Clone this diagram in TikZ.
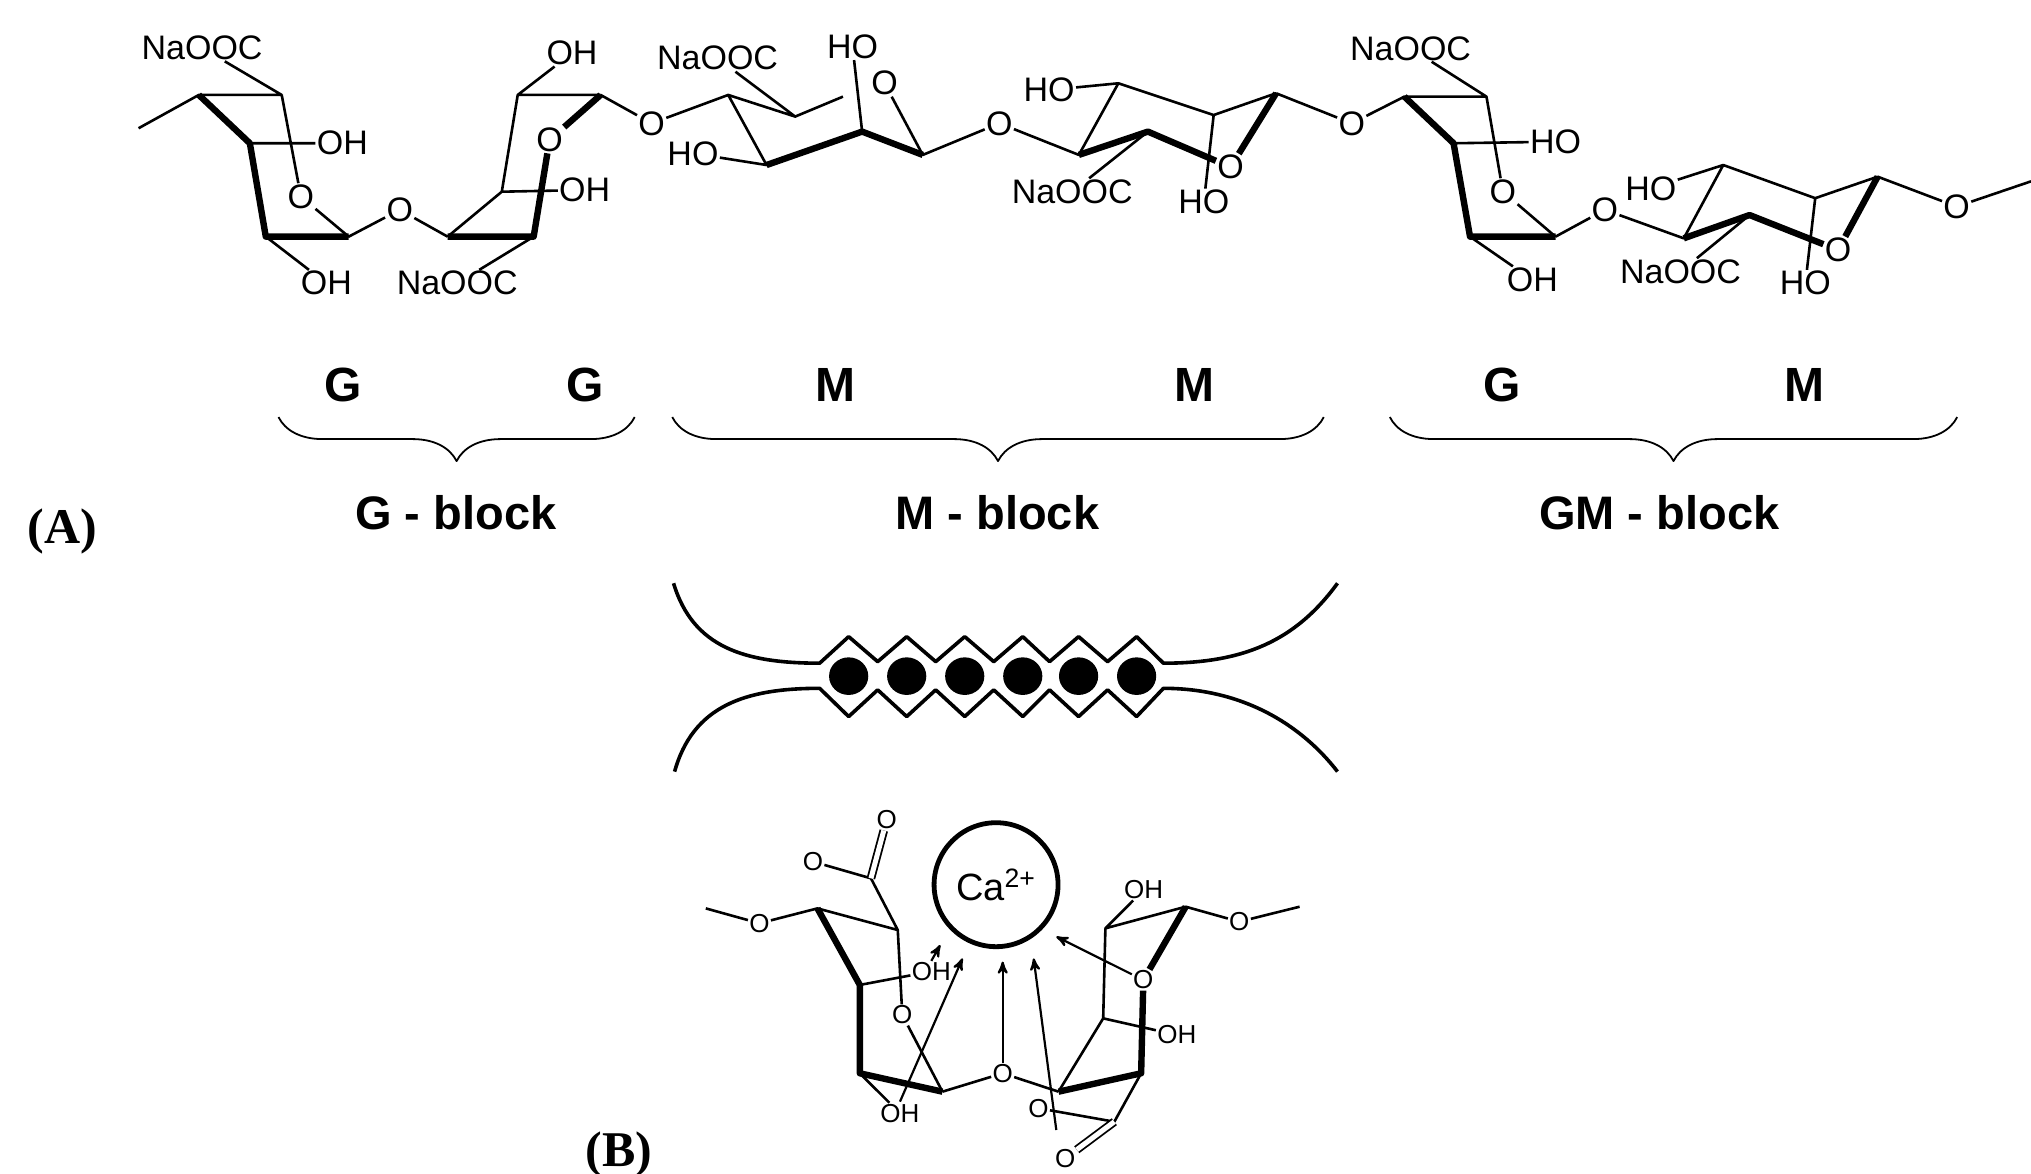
\documentclass[tikz,border=0pt]{standalone}
\usepackage{fontspec}
\setmainfont{Liberation Sans}
\newfontfamily\labelserif{Liberation Serif}
\usetikzlibrary{arrows,decorations.pathreplacing}

\begin{document}
\begin{tikzpicture}[x=0.6477pt,y=-0.6477pt,line join=round,
  atom/.style={inner sep=0.5pt,font=\fontsize{17}{17}\selectfont},
  small atom/.style={inner sep=0.5pt,font=\fontsize{13}{13}\selectfont},
  unit/.style={font=\fontsize{24}{24}\selectfont\bfseries},
  block/.style={font=\fontsize{23.5}{24}\selectfont\bfseries},
  bond/.style={line width=1.3pt},
  wedge/.style={line width=3.2pt},
  brace/.style={decorate,decoration={brace,mirror,amplitude=22pt},line width=0.9pt},
  ca arrow/.style={->,>=stealth',line width=1.1pt}]
  \useasboundingbox (0,0) rectangle (1568,906);

  % first G unit
  \coordinate (r1s) at (107,99);
  \coordinate (r1a) at (153.5,73.3);
  \coordinate (r1b) at (217.5,73.3);
  \coordinate (r1c) at (192.9,110.6);
  \coordinate (r1d) at (205.2,182.7);
  \coordinate (r1e) at (269.2,182.7);
  \node[atom] (r1na) at (156,37) {NaOOC};
  \node[atom] (r1o) at (232.3,151.8) {O};
  \node[atom] (r1oh) at (264.3,110.6) {OH};
  \node[atom] (r1ohb) at (252,218.7) {OH};
  \node[atom] (o12) at (308.6,162) {O};
  % second G unit
  \coordinate (r2a) at (345.6,182.7);
  \coordinate (r2b) at (412,182.7);
  \coordinate (r2c) at (387.4,148);
  \coordinate (r2d) at (399.7,73.3);
  \coordinate (r2e) at (463.7,73.3);
  \node[atom] (r2oh) at (451.4,146.7) {OH};
  \node[atom] (r2o) at (424.3,108) {O};
  \node[atom] (r2ohb) at (441.6,41) {OH};
  \node[atom] (r2na) at (353,218.7) {NaOOC};
  \node[atom] (o23) at (503.1,95.2) {O};
  % first M unit
  \coordinate (r3a) at (562.2,73.3);
  \coordinate (r3b) at (613.9,90);
  \coordinate (r3s) at (650.8,74.6);
  \coordinate (r3c) at (665.6,101.6);
  \coordinate (r3d) at (591.8,127.4);
  \coordinate (r3e) at (712.4,119.6);
  \node[atom] (r3na) at (554,45) {NaOOC};
  \node[atom] (r3ho) at (658.2,36) {HO};
  \node[atom] (r3o) at (682.9,64.3) {O};
  \node[atom] (r3hob) at (535,118.4) {HO};
  \node[atom] (o34) at (771.5,95.2) {O};
  % second M unit
  \coordinate (r4a) at (832.9,119.6);
  \coordinate (r4b) at (863.4,64.3);
  \coordinate (r4c) at (937,88.8);
  \coordinate (r4d) at (985.2,72);
  \coordinate (r4e) at (886.2,101.6);
  \node[atom] (r4ho) at (810,69.5) {HO};
  \node[atom] (r4o) at (950,129) {O};
  \node[atom] (r4na) at (827.8,148) {NaOOC};
  \node[atom] (r4hob) at (929.4,156) {HO};
  \node[atom] (o45) at (1043.6,95.2) {O};
  % third G unit
  \coordinate (r5a) at (1084.2,74.6);
  \coordinate (r5b) at (1147.6,74.6);
  \coordinate (r5c) at (1122.2,110.6);
  \coordinate (r5d) at (1134.9,182.7);
  \coordinate (r5e) at (1200.9,182.7);
  \node[atom] (r5na) at (1089,37.3) {NaOOC};
  \node[atom] (r5ho) at (1200.9,109.4) {HO};
  \node[atom] (r5o) at (1160.3,148) {O};
  \node[atom] (r5oh) at (1183,216) {OH};
  \node[atom] (o56) at (1239,162) {O};
  % third M unit
  \coordinate (r6a) at (1299.9,184);
  \coordinate (r6b) at (1330.4,127.4);
  \coordinate (r6c) at (1401.4,153);
  \coordinate (r6d) at (1449.6,136.4);
  \coordinate (r6e) at (1350.7,166);
  \coordinate (r6s) at (1568,140);
  \node[atom] (r6ho) at (1274.5,145.4) {HO};
  \node[atom] (r6o) at (1419,193) {O};
  \node[atom] (r6na) at (1297.4,209.7) {NaOOC};
  \node[atom] (r6hob) at (1393.8,218.7) {HO};
  \node[atom] (o6e) at (1510.6,159.5) {O};

  \draw[bond] (r1s) -- (r1a) -- (r1b) -- (r1na) (r1b) -- (r1o) -- (r1e) -- (o12) -- (r2a)
    (r1c) -- (r1oh) (r1d) -- (r1ohb)
    (r2a) -- (r2c) -- (r2oh) (r2c) -- (r2d) -- (r2e) (r2d) -- (r2ohb) (r2b) -- (r2na)
    (r2e) -- (o23) -- (r3a) -- (r3b) -- (r3s) (r3b) -- (r3na) (r3a) -- (r3d) -- (r3hob)
    (r3c) -- (r3ho) (r3o) -- (r3e) -- (o34)
    (o34) -- (r4a) -- (r4b) -- (r4ho) (r4b) -- (r4c) -- (r4d) (r4c) -- (r4hob)
    (r4e) -- (r4na) (r4d) -- (o45)
    (o45) -- (r5a) -- (r5b) -- (r5na) (r5c) -- (r5ho) (r5b) -- (r5o) -- (r5e)
    (r5d) -- (r5oh) (r5e) -- (o56)
    (o56) -- (r6a) -- (r6b) -- (r6ho) (r6b) -- (r6c) -- (r6d) (r6c) -- (r6hob)
    (r6e) -- (r6na) (r6d) -- (o6e) -- (r6s);
  \draw[wedge] (r1a) -- (r1c) -- (r1d) -- (r1e)
    (r2a) -- (r2b) -- (r2o) -- (r2e)
    (r3d) -- (r3c) -- (r3e)
    (r4a) -- (r4e) -- (r4o) -- (r4d)
    (r5a) -- (r5c) -- (r5d) -- (r5e)
    (r6a) -- (r6e) -- (r6o) -- (r6d);

  % units and blocks
  \foreach \x/\u [count=\i] in {265/G,452/G,645/M,922/M,1160/G,1393/M}
    \node[unit] (u\i) at (\x,297) {\u};
  \node[block] (gb) at (352,396) {G - block};
  \node[block] (mb) at (770,396) {M - block};
  \node[block] (gmb) at (1281,396) {GM - block};
  \draw[brace] (215,322) -- (490,322);
  \draw[brace] (519,322) -- (1022,322);
  \draw[brace] (1073,322) -- (1511,322);
  \node[font=\labelserif\fontsize{25}{25}\selectfont\bfseries] (la) at (48,410) {(A)};
  \node[font=\labelserif\fontsize{25}{25}\selectfont\bfseries] (lb) at (478,891) {(B)};

  % egg-box
  \draw[line width=1.8pt] (520,450.3) .. controls (535,500) and (575,512) .. (632.8,512)
    -- (655.2,491.5) -- (677.6,510.8) -- (700,491.5) -- (722.4,510.8) -- (744.8,491.5)
    -- (767.2,510.8) -- (789.6,491.5) -- (810.3,510.8) -- (832.7,491.5) -- (855.1,510.8)
    -- (877.5,491.5) -- (898.2,512) .. controls (960,512) and (1000,495) .. (1032.6,450.3);
  \draw[line width=1.8pt] (520.8,595.7) .. controls (535,545) and (575,531.4) .. (632.8,531.4)
    -- (655.2,553.2) -- (677.6,532.6) -- (700,553.2) -- (722.4,532.6) -- (744.8,553.2)
    -- (767.2,532.6) -- (789.6,553.2) -- (810.3,532.6) -- (832.7,553.2) -- (855.1,532.6)
    -- (877.5,553.2) -- (898.2,531.4) .. controls (960,531.4) and (1005,560) .. (1032.6,595.7);
  \foreach \x in {655.2,700,744.8,789.6,832.7,877.5}
    \fill (\x,522) ellipse (9.8pt and 9.4pt);

  % calcium binding
  \node[draw,circle,line width=2.4pt,minimum size=62pt,inner sep=0pt,
    font=\fontsize{19}{19}\selectfont] (ca) at (769,683) {Ca\textsuperscript{2+}};
  \coordinate (cls) at (544.9,701.3);
  \coordinate (cla) at (631.1,701.3);
  \coordinate (clb) at (693.1,718);
  \coordinate (clk) at (672.4,678.1);
  \coordinate (clc) at (663.8,760.4);
  \coordinate (cle) at (663.8,828.6);
  \coordinate (clf) at (727.6,842.8);
  \node[small atom] (clo) at (586.3,712.8) {O};
  \node[small atom] (clko1) at (684.5,633) {O};
  \node[small atom] (clko2) at (627.6,665.2) {O};
  \node[small atom] (cloh) at (719,750) {OH};
  \node[small atom] (clor) at (696.6,783.6) {O};
  \node[small atom] (clohb) at (694.8,859.5) {OH};
  \node[small atom] (cbo) at (774.1,828.6) {O};
  \coordinate (cra) at (817.2,842.8);
  \coordinate (crb) at (881,828.6);
  \coordinate (crc) at (915.4,700);
  \coordinate (crd) at (853.4,716.7);
  \coordinate (cre) at (851.7,786.2);
  \coordinate (crk) at (860.3,866);
  \coordinate (crs) at (1003.3,700);
  \node[small atom] (cro) at (882.7,756.6) {O};
  \node[small atom] (croh) at (883,687) {OH};
  \node[small atom] (cro2) at (956.8,711.6) {O};
  \node[small atom] (crohb) at (908.5,799) {OH};
  \node[small atom] (crko1) at (801.7,855.6) {O};
  \node[small atom] (crko2) at (822.4,894.2) {O};

  \draw[bond] (cls) -- (clo) -- (cla) -- (clb) -- (clk) -- (clko2)
    (clb) -- (clor) -- (clf) (clc) -- (cloh) (cle) -- (clohb)
    (clf) -- (cbo) -- (cra) (crc) -- (crd) -- (croh) (crc) -- (cro2) -- (crs)
    (crd) -- (cre) -- (crohb) (cre) -- (cra) (crb) -- (crk) -- (crko1);
  \draw[bond,double,double distance=2.5pt,line width=0.9pt] (clk) -- (clko1) (crk) -- (crko2);
  \draw[wedge] (cla) -- (clc) -- (cle) -- (clf) (cra) -- (crb) -- (cro) -- (crc);

  \coordinate (a1t) at (694.8,850.5);
  \coordinate (a1h) at (743.1,739.9);
  \coordinate (a2h) at (774.1,742.4);
  \coordinate (a3t) at (815.5,872.4);
  \coordinate (a3h) at (798,739.9);
  \coordinate (a4h) at (815.5,723.1);
  \coordinate (a5h) at (725.9,729.6);
  \draw[ca arrow] (a1t) -- (a1h);
  \draw[ca arrow] (cbo) -- (a2h);
  \draw[ca arrow] (a3t) -- (a3h);
  \draw[ca arrow] (cro) -- (a4h);
  \draw[ca arrow] (cloh.north) -- (a5h);
\end{tikzpicture}
\end{document}
